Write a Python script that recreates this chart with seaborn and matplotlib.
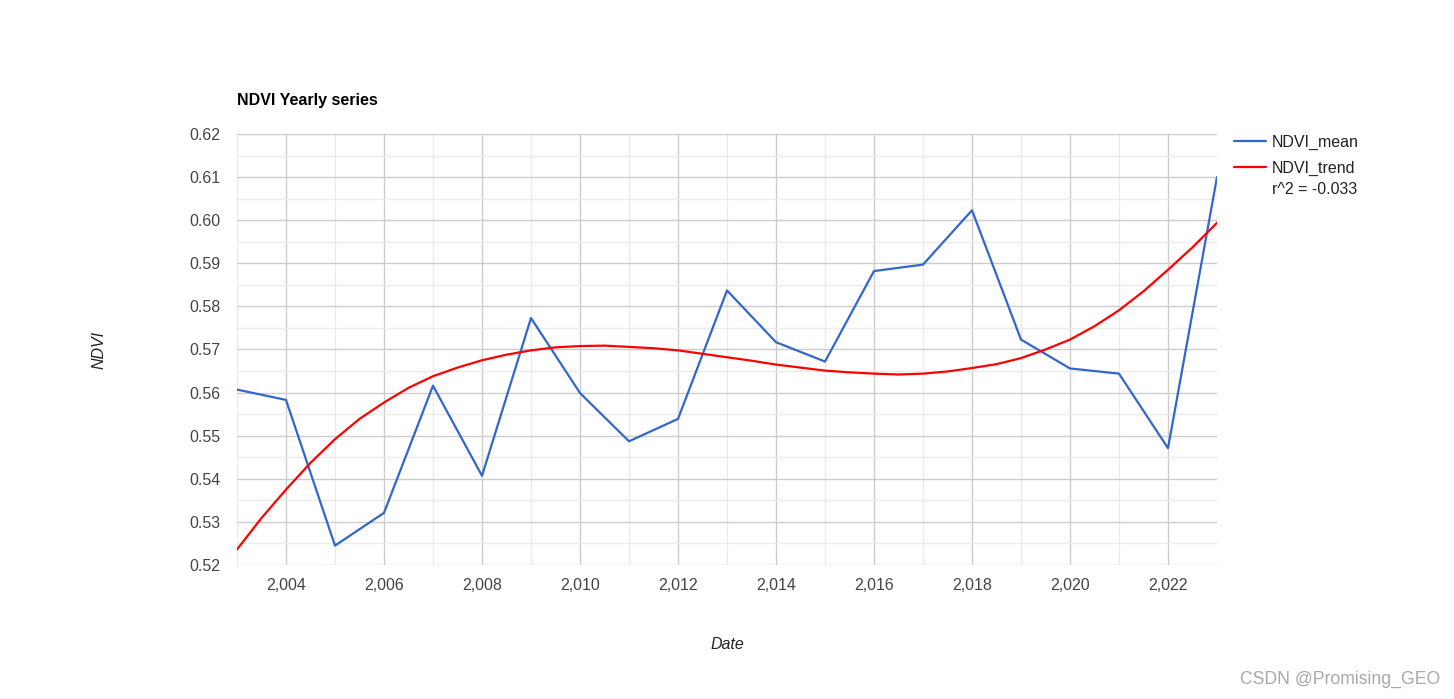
import matplotlib
matplotlib.use("Agg")
import matplotlib.pyplot as plt
import seaborn as sns
import pandas as pd
from matplotlib.ticker import FixedLocator, FuncFormatter

# yearly NDVI values
years = list(range(2003, 2024))
ndvi_mean = [0.5607, 0.5583, 0.5245, 0.5321, 0.5616, 0.5407, 0.5773, 0.5599,
             0.5487, 0.5539, 0.5837, 0.5717, 0.5672, 0.5882, 0.5897, 0.6023,
             0.5723, 0.5656, 0.5644, 0.5471, 0.6100]

# trend curve, read every half year so it stays smooth
trend_years = [2003 + 0.5 * i for i in range(41)]
ndvi_trend = [0.5236, 0.5309, 0.5375, 0.5437, 0.5492, 0.5539, 0.5577, 0.5611,
              0.5638, 0.5658, 0.5675, 0.5688, 0.5698, 0.5705, 0.5708, 0.5709,
              0.5706, 0.5703, 0.5698, 0.5690, 0.5682, 0.5674, 0.5665, 0.5658,
              0.5651, 0.5647, 0.5644, 0.5642, 0.5644, 0.5649, 0.5657, 0.5666,
              0.5680, 0.5700, 0.5723, 0.5754, 0.5791, 0.5835, 0.5885, 0.5937,
              0.5994]
r2_text = "r^2 = -0.033"

df_mean = pd.DataFrame({"year": years, "ndvi": ndvi_mean})
df_trend = pd.DataFrame({"year": trend_years, "ndvi": ndvi_trend})

sns.set_style("white")
plt.rcParams["font.family"] = ["Liberation Sans", "DejaVu Sans"]

fig = plt.figure(figsize=(14.54, 6.99), dpi=100)
ax = fig.add_axes([237 / 1454, 1 - 565 / 699, 980 / 1454, 431 / 699])

blue, red = "#3366cc", "#ff0000"
sns.lineplot(data=df_mean, x="year", y="ndvi", ax=ax, color=blue, lw=1.6, label="NDVI_mean")
sns.lineplot(data=df_trend, x="year", y="ndvi", ax=ax, color=red, lw=1.6, label="NDVI_trend")

ax.set_xlim(2003, 2023)
ax.set_ylim(0.52, 0.62)
ax.xaxis.set_major_locator(FixedLocator(list(range(2004, 2023, 2))))
ax.xaxis.set_minor_locator(FixedLocator(list(range(2003, 2024, 2))))
ax.xaxis.set_major_formatter(FuncFormatter(lambda v, p: f"{int(v):,}"))
ax.yaxis.set_major_locator(FixedLocator([0.52 + 0.01 * i for i in range(11)]))
ax.yaxis.set_minor_locator(FixedLocator([0.525 + 0.01 * i for i in range(10)]))
ax.yaxis.set_major_formatter(FuncFormatter(lambda v, p: f"{v:.2f}"))

ax.grid(which="major", color="#cccccc", lw=1)
ax.grid(which="minor", color="#ebebeb", lw=1)
ax.set_axisbelow(True)
for s in ax.spines.values():
    s.set_visible(False)
ax.tick_params(which="both", length=0)
ax.tick_params(axis="x", labelsize=11.5, labelcolor="#444444", pad=9)
ax.tick_params(axis="y", labelsize=11.5, labelcolor="#444444", pad=12)

ax.set_xlabel("Date", fontsize=11.5, style="italic", color="#222222")
ax.set_ylabel("NDVI", fontsize=11.5, style="italic", color="#222222")
ax.xaxis.set_label_coords(0.5, -(637 - 565) / 431)
ax.yaxis.set_label_coords(-(237 - 106) / 980, 0.5)

ax.text(0, 1 + (134 - 100) / 431, "NDVI Yearly series", transform=ax.transAxes,
        fontsize=11.5, fontweight="bold", color="black", va="center", ha="left")

leg = ax.legend(loc="upper left", bbox_to_anchor=(1234 / 1454, 1 - 135 / 699),
                bbox_transform=fig.transFigure, frameon=False, fontsize=11.5,
                handlelength=2.0, handletextpad=0.35, labelspacing=0.64,
                borderpad=0, borderaxespad=0)
for t in leg.get_texts():
    t.set_color("#222222")
fig.text(1272 / 1454, 1 - 189 / 699, r2_text, fontsize=11.5, color="#222222",
         va="center", ha="left")

fig.text(1440 / 1454, 1 - 679 / 699, "CSDN @Promising_GEO", fontsize=12.7,
         color="#a8a8a8", ha="right", va="center")

fig.savefig("out.png", dpi=100, facecolor="white")
